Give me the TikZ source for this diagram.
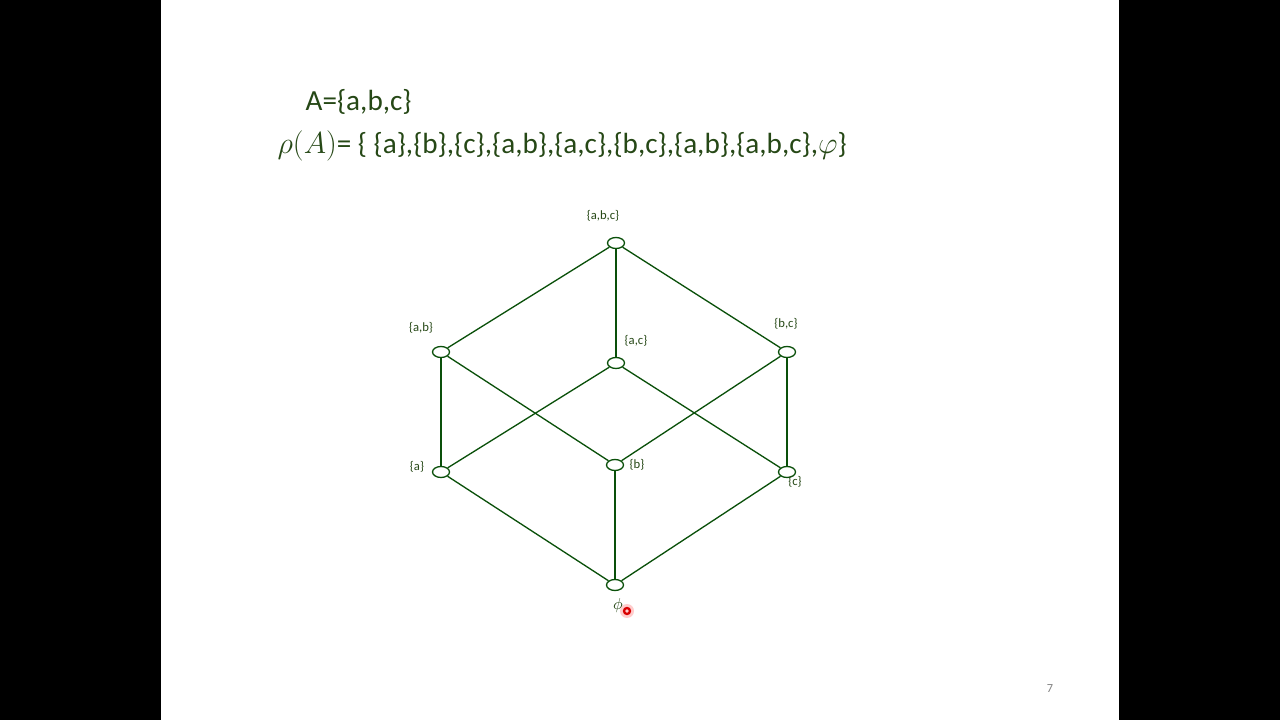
\documentclass[tikz,border=0pt]{standalone}
\usepackage{fontspec}
\setmainfont{Carlito}
\usepackage{tikz}
\usetikzlibrary {positioning, shapes.geometric}
\definecolor{dkgreen}{RGB}{38,72,22}
\definecolor{lngreen}{RGB}{10,80,10}

\begin{document}
\begin{tikzpicture}[auto, inner sep=0pt,
      line width=0.75pt, draw=lngreen,
      state/.style={ellipse, draw=lngreen, fill=white, line width=0.75pt,
        minimum width=3.4mm, minimum height=2.2mm},
      tag/.style={text=dkgreen, font=\fontsize{7.2}{8}\selectfont},
      title/.style={text=dkgreen, anchor=west, font=\fontsize{16.6}{19}\selectfont}]
      % slide background;
      \fill[black] (0,0) rectangle (25.6,14.4);
      \fill[white] (3.22,0) rectangle (22.38,14.4);
      \useasboundingbox (0,0) rectangle (25.6,14.4);
      % title lines;
      \node[title] (setA) at (6.10,12.36) {A=\{a,b,c\}};
      \node[title] (powA) at (5.54,11.48) {$\rho(A)$= \{ \{a\},\{b\},\{c\},\{a,b\},\{a,c\},\{b,c\},\{a,b\},\{a,b,c\},$\varphi$\}};
      % top, middle row;
      \node[state] (abc) at (12.32,9.54) {};
      \node[state] (ab) at (8.82,7.36) {};
      \node[state] (ac) at (12.32,7.14) {};
      \node[state] (bc) at (15.74,7.36) {};
      % lower row, bottom;
      \node[state] (a) at (8.82,4.96) {};
      \node[state] (b) at (12.30,5.10) {};
      \node[state] (c) at (15.74,4.96) {};
      \node[state] (phi) at (12.30,2.70) {};
      % edges;
      \path (abc) edge (ab);
      \path (abc) edge (ac);
      \path (abc) edge (bc);
      \path (ab) edge (a);
      \path (ab) edge (b);
      \path (ac) edge (a);
      \path (ac) edge (c);
      \path (bc) edge (b);
      \path (bc) edge (c);
      \path (a) edge (phi);
      \path (b) edge (phi);
      \path (c) edge (phi);
      % labels;
      \node[tag] (l_abc) at (12.06,10.08) {\{a,b,c\}};
      \node[tag] (l_ab) at (8.42,7.84) {\{a,b\}};
      \node[tag] (l_bc) at (15.72,7.92) {\{b,c\}};
      \node[tag] (l_ac) at (12.72,7.58) {\{a,c\}};
      \node[tag] (l_a) at (8.34,5.06) {\{a\}};
      \node[tag] (l_b) at (12.74,5.10) {\{b\}};
      \node[tag] (l_c) at (15.90,4.76) {\{c\}};
      \node[text=dkgreen, font=\small] (l_phi) at (12.36,2.28) {$\phi$};
      % pointer, page number;
      \fill[red!20] (12.54,2.18) circle (0.14);
      \draw[red!85!black, line width=1.3pt] (12.54,2.18) circle (0.06);
      \node[text=gray, font=\fontsize{7}{8}\selectfont] (pageno) at (21.0,0.62) {7};
\end{tikzpicture}
\end{document}
